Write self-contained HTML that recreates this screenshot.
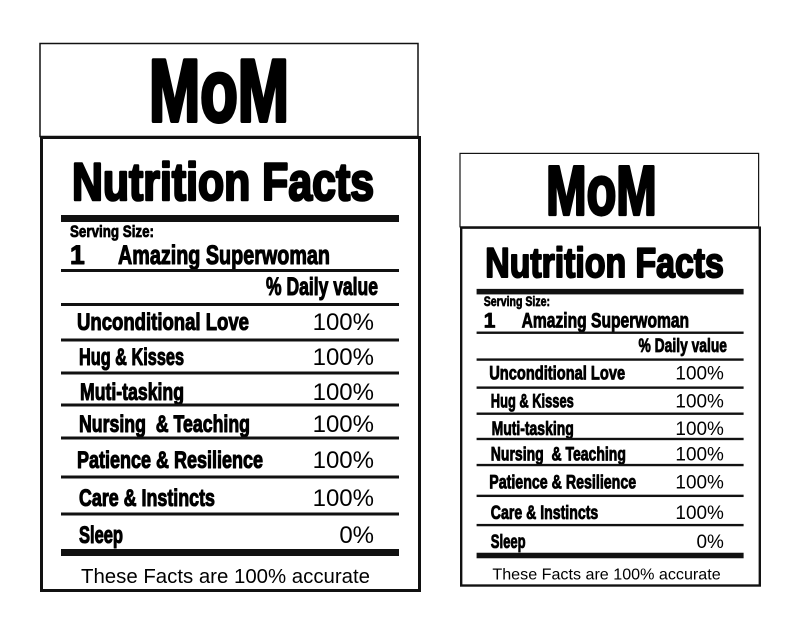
<!DOCTYPE html>
<html><head><meta charset="utf-8"><style>
html,body{margin:0;padding:0;background:#fff;}
svg{display:block;}
text{white-space:pre;}
.b{font-family:"Liberation Sans Narrow","Liberation Sans",sans-serif;font-weight:bold;fill:#000;stroke:#000;stroke-width:1.1;stroke-linejoin:round;}
.h{stroke-width:2.6;}
.r{font-family:"Liberation Sans",sans-serif;fill:#000;}
</style></head><body>
<svg id="canvas" width="794" height="635" viewBox="0 0 794 635" xmlns="http://www.w3.org/2000/svg">
<rect width="794" height="635" fill="#fff"/>
<g id="labelA">
  <rect x="40" y="43.5" width="378" height="93" fill="none" stroke="#111" stroke-width="1.5"/>
  <text class="b h" x="149" y="121" font-size="88" textLength="140" lengthAdjust="spacingAndGlyphs" style="stroke-width:4">MoM</text>
  <rect x="41.5" y="137.5" width="378" height="453" fill="none" stroke="#111" stroke-width="3"/>
  <text class="b h" x="72" y="200" font-size="53" textLength="302" lengthAdjust="spacingAndGlyphs">Nutrition Facts</text>
  <rect x="61" y="215" width="338" height="7" fill="#111"/>
  <text class="b" x="70" y="237" font-size="17" textLength="84" lengthAdjust="spacingAndGlyphs" style="stroke-width:0.8">Serving Size:</text>
  <text class="b" x="70" y="264" font-size="26.5">1</text>
  <text class="b" x="118" y="264" font-size="26.5" textLength="212" lengthAdjust="spacingAndGlyphs">Amazing Superwoman</text>
  <rect x="61" y="269" width="338" height="3" fill="#111"/>
  <text class="b" x="266" y="295" font-size="25" textLength="112" lengthAdjust="spacingAndGlyphs">% Daily value</text>
  <rect x="61" y="303" width="338" height="3" fill="#111"/>
  <g id="rows"></g>
  <rect x="61" y="549" width="338" height="7" fill="#111"/>
  <text class="r" x="81" y="583" font-size="20" textLength="289" lengthAdjust="spacingAndGlyphs">These Facts are 100% accurate</text>
</g>
<g id="labelBWrap" transform="translate(460,153) scale(0.79) translate(-40,-43)"></g>
</svg>
<script>
const rowLabels=["Unconditional Love","Hug & Kisses","Muti-tasking","Nursing  & Teaching","Patience & Resilience","Care & Instincts","Sleep"];
const rowValues=[100,100,100,100,100,100,0];
const NS="http://www.w3.org/2000/svg";
const rowX=[77,79,80,79,77,79,79];
const rowW=[172,105,104,171,186,136,44];
const rowBase=[330,365,400,432,468,506,543];
const ruleY=[338.5,371.5,403.5,436.5,475.5,512.5];
const rows=document.getElementById('rows');
for(let i=0;i<rowLabels.length;i++){
  const t=document.createElementNS(NS,'text');
  
  
  t.setAttribute('class','b');
  t.setAttribute('x',rowX[i]);t.setAttribute('y',rowBase[i]);
  t.setAttribute('font-size','24.5');
  t.setAttribute('textLength',rowW[i]);t.setAttribute('lengthAdjust','spacingAndGlyphs');
  t.textContent=rowLabels[i];rows.appendChild(t);
  const v=document.createElementNS(NS,'text');
  
  
  v.setAttribute('class','r');
  v.setAttribute('x',374);v.setAttribute('y',rowBase[i]);
  v.setAttribute('text-anchor','end');
  v.setAttribute('font-size','24');
  v.textContent=rowValues[i]+'%';rows.appendChild(v);
  if(i<ruleY.length){
    const r=document.createElementNS(NS,'rect');
    
    
    r.setAttribute('x',61);r.setAttribute('y',ruleY[i]);
    r.setAttribute('width',338);r.setAttribute('height',3);r.setAttribute('fill','#111');
    rows.appendChild(r);
  }
}
const clone=document.getElementById('labelA').cloneNode(true);
clone.removeAttribute('id');

clone.querySelectorAll('[id]').forEach(e=>e.removeAttribute('id'));
document.getElementById('labelBWrap').appendChild(clone);
</script>
</body></html>
